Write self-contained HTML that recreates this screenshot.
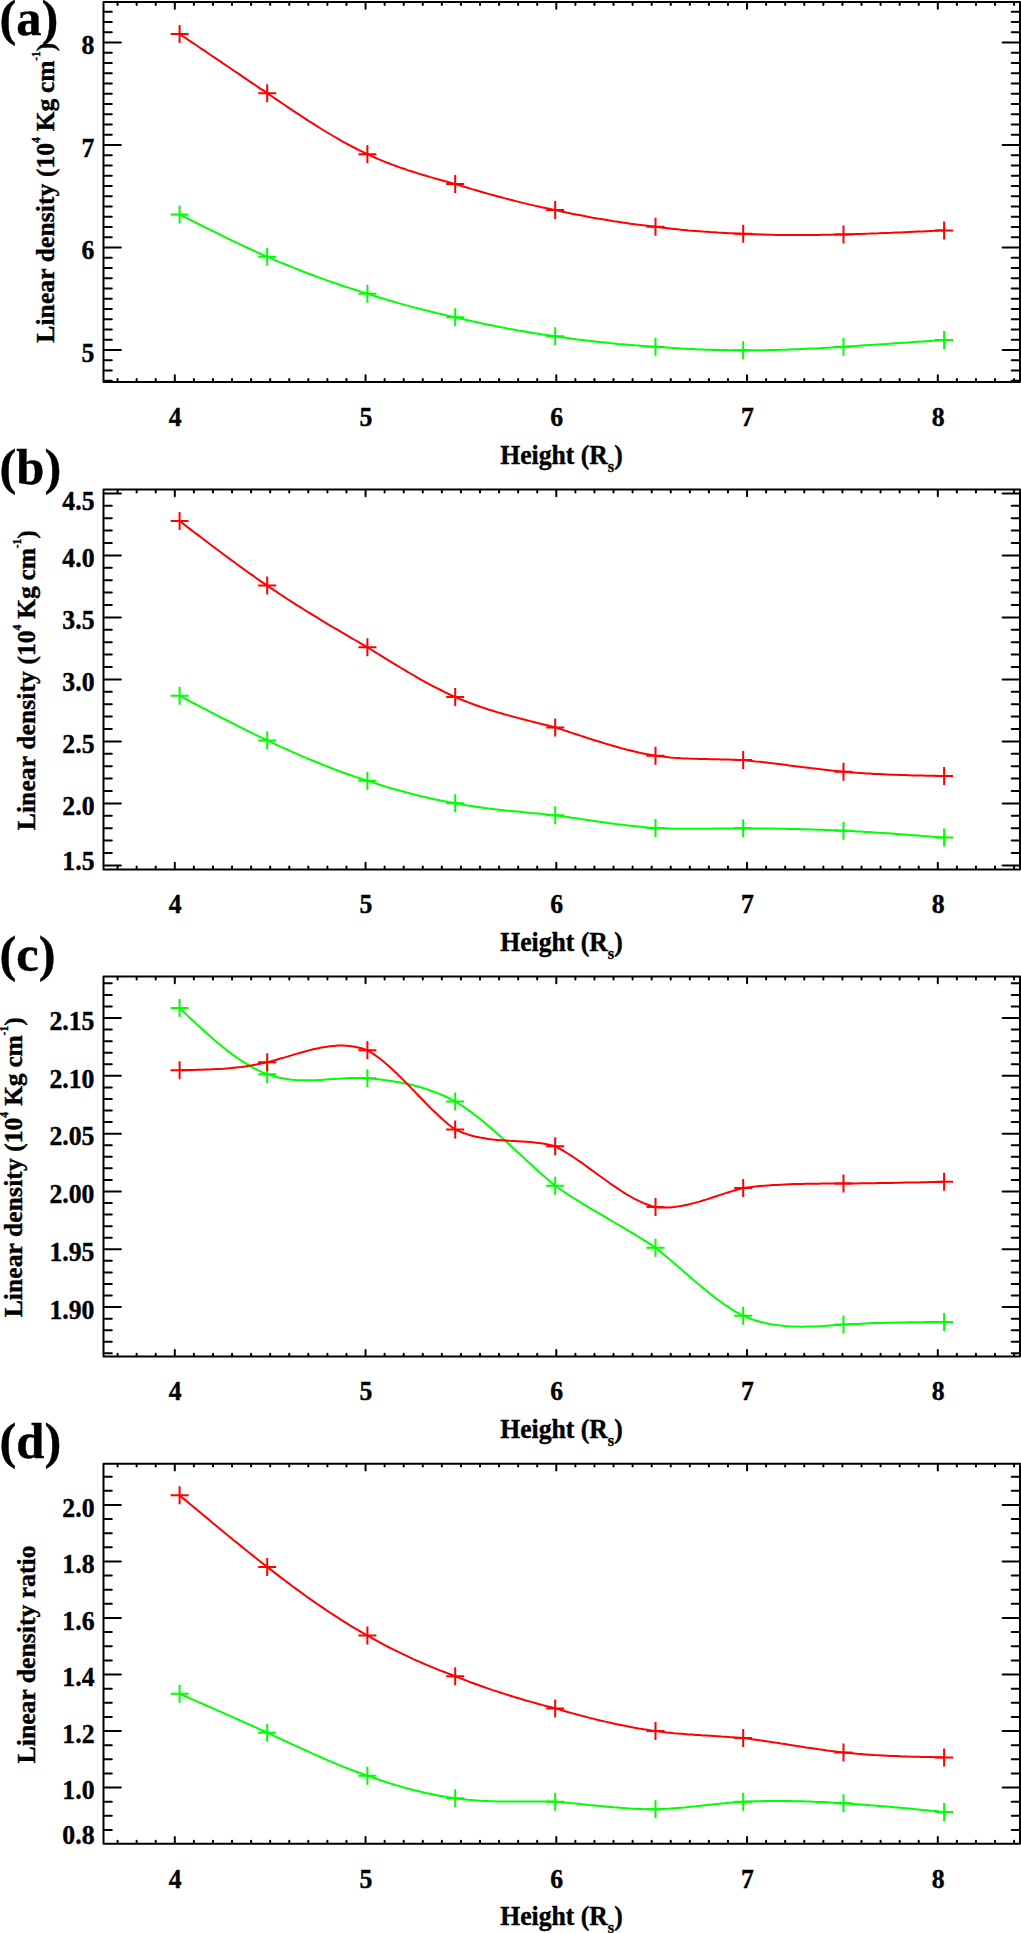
<!DOCTYPE html>
<html lang="en"><head><meta charset="utf-8"><title>Linear density vs height</title>
<style>
html,body{margin:0;padding:0;background:#fff;}
body{width:1021px;height:1933px;overflow:hidden;}
svg{display:block;}
text{font-family:"Liberation Serif",serif;font-weight:bold;fill:#000;stroke:#000;stroke-width:0.4px;}
.tk{font-size:27.1px;}
.ax{font-size:27.2px;}
.pl{font-size:50.5px;}
.fr{fill:none;stroke:#000;stroke-width:2;stroke-linejoin:round;}
.t{stroke:#000;stroke-width:2;fill:none;stroke-linecap:round;}
.r{stroke:#ff0000;fill:none;stroke-width:2;}
.g{stroke:#00ff00;fill:none;stroke-width:2;}
</style></head><body>
<svg width="1021" height="1933" viewBox="0 0 1021 1933">
<rect x="0" y="0" width="1021" height="1933" fill="#fff"/>
<g>
<path class="t" d="M117.58 381v-1.9M117.58 3v1.9M136.65 381v-1.9M136.65 3v1.9M155.72 381v-1.9M155.72 3v1.9M174.8 381v-5.7M174.8 3v5.7M193.87 381v-1.9M193.87 3v1.9M212.95 381v-1.9M212.95 3v1.9M232.02 381v-1.9M232.02 3v1.9M251.1 381v-1.9M251.1 3v1.9M270.18 381v-1.9M270.18 3v1.9M289.25 381v-1.9M289.25 3v1.9M308.33 381v-1.9M308.33 3v1.9M327.4 381v-1.9M327.4 3v1.9M346.48 381v-1.9M346.48 3v1.9M365.55 381v-5.7M365.55 3v5.7M384.62 381v-1.9M384.62 3v1.9M403.7 381v-1.9M403.7 3v1.9M422.77 381v-1.9M422.77 3v1.9M441.85 381v-1.9M441.85 3v1.9M460.93 381v-1.9M460.93 3v1.9M480 381v-1.9M480 3v1.9M499.08 381v-1.9M499.08 3v1.9M518.15 381v-1.9M518.15 3v1.9M537.23 381v-1.9M537.23 3v1.9M556.3 381v-5.7M556.3 3v5.7M575.38 381v-1.9M575.38 3v1.9M594.45 381v-1.9M594.45 3v1.9M613.52 381v-1.9M613.52 3v1.9M632.6 381v-1.9M632.6 3v1.9M651.67 381v-1.9M651.67 3v1.9M670.75 381v-1.9M670.75 3v1.9M689.83 381v-1.9M689.83 3v1.9M708.9 381v-1.9M708.9 3v1.9M727.98 381v-1.9M727.98 3v1.9M747.05 381v-5.7M747.05 3v5.7M766.12 381v-1.9M766.12 3v1.9M785.2 381v-1.9M785.2 3v1.9M804.28 381v-1.9M804.28 3v1.9M823.35 381v-1.9M823.35 3v1.9M842.42 381v-1.9M842.42 3v1.9M861.5 381v-1.9M861.5 3v1.9M880.58 381v-1.9M880.58 3v1.9M899.65 381v-1.9M899.65 3v1.9M918.73 381v-1.9M918.73 3v1.9M937.8 381v-5.7M937.8 3v5.7M956.88 381v-1.9M956.88 3v1.9M975.95 381v-1.9M975.95 3v1.9M995.03 381v-1.9M995.03 3v1.9M1014.1 381v-1.9M1014.1 3v1.9M104.5 380.65h7.3M1019 380.65h-7.3M104.5 370.4h7.3M1019 370.4h-7.3M104.5 360.15h7.3M1019 360.15h-7.3M104.5 349.9h16.4M1019 349.9h-16.4M104.5 339.65h7.3M1019 339.65h-7.3M104.5 329.4h7.3M1019 329.4h-7.3M104.5 319.15h7.3M1019 319.15h-7.3M104.5 308.9h7.3M1019 308.9h-7.3M104.5 298.65h7.3M1019 298.65h-7.3M104.5 288.4h7.3M1019 288.4h-7.3M104.5 278.15h7.3M1019 278.15h-7.3M104.5 267.9h7.3M1019 267.9h-7.3M104.5 257.65h7.3M1019 257.65h-7.3M104.5 247.4h16.4M1019 247.4h-16.4M104.5 237.15h7.3M1019 237.15h-7.3M104.5 226.9h7.3M1019 226.9h-7.3M104.5 216.65h7.3M1019 216.65h-7.3M104.5 206.4h7.3M1019 206.4h-7.3M104.5 196.15h7.3M1019 196.15h-7.3M104.5 185.9h7.3M1019 185.9h-7.3M104.5 175.65h7.3M1019 175.65h-7.3M104.5 165.4h7.3M1019 165.4h-7.3M104.5 155.15h7.3M1019 155.15h-7.3M104.5 144.9h16.4M1019 144.9h-16.4M104.5 134.65h7.3M1019 134.65h-7.3M104.5 124.4h7.3M1019 124.4h-7.3M104.5 114.15h7.3M1019 114.15h-7.3M104.5 103.9h7.3M1019 103.9h-7.3M104.5 93.65h7.3M1019 93.65h-7.3M104.5 83.4h7.3M1019 83.4h-7.3M104.5 73.15h7.3M1019 73.15h-7.3M104.5 62.9h7.3M1019 62.9h-7.3M104.5 52.65h7.3M1019 52.65h-7.3M104.5 42.4h16.4M1019 42.4h-16.4M104.5 32.15h7.3M1019 32.15h-7.3M104.5 21.9h7.3M1019 21.9h-7.3M104.5 11.65h7.3M1019 11.65h-7.3"/>
<rect class="fr" x="103.5" y="2" width="916.5" height="380"/>
<polyline class="g" points="179.6,214.5 183.2,216.3 186.9,218.2 190.5,220.0 194.2,221.8 197.8,223.7 201.5,225.5 205.2,227.3 208.8,229.1 212.4,230.9 216.1,232.7 219.8,234.5 223.4,236.3 227.0,238.1 230.7,239.8 234.3,241.6 238.0,243.3 241.6,245.1 245.3,246.8 248.9,248.5 252.6,250.1 256.2,251.8 259.9,253.5 263.6,255.1 267.2,256.7 271.4,258.5 275.6,260.3 279.7,262.1 283.9,263.8 288.1,265.5 292.2,267.2 296.4,268.9 300.6,270.5 304.8,272.2 308.9,273.8 313.1,275.3 317.3,276.9 321.5,278.4 325.6,279.9 329.8,281.4 334.0,282.8 338.2,284.3 342.3,285.7 346.5,287.1 350.7,288.4 354.9,289.8 359.0,291.1 363.2,292.4 367.4,293.7 371.1,294.9 374.7,296.0 378.4,297.2 382.0,298.3 385.7,299.4 389.3,300.5 393.0,301.5 396.7,302.6 400.3,303.6 404.0,304.6 407.6,305.6 411.3,306.6 415.0,307.6 418.6,308.5 422.3,309.5 425.9,310.4 429.6,311.3 433.2,312.2 436.9,313.1 440.6,314.0 444.2,314.8 447.9,315.7 451.5,316.5 455.2,317.3 459.4,318.3 463.5,319.3 467.7,320.2 471.9,321.2 476.0,322.1 480.2,323.0 484.4,323.9 488.5,324.8 492.7,325.6 496.9,326.4 501.0,327.3 505.2,328.1 509.4,328.9 513.5,329.6 517.7,330.4 521.9,331.1 526.0,331.8 530.2,332.5 534.4,333.2 538.5,333.8 542.7,334.5 546.9,335.1 551.0,335.7 555.2,336.3 559.4,336.9 563.6,337.5 567.7,338.1 571.9,338.7 576.1,339.3 580.3,339.8 584.5,340.3 588.6,340.8 592.8,341.3 597.0,341.8 601.2,342.2 605.4,342.6 609.5,343.1 613.7,343.5 617.9,343.9 622.1,344.2 626.2,344.6 630.4,344.9 634.6,345.3 638.8,345.6 643.0,345.9 647.1,346.2 651.3,346.4 655.5,346.7 659.2,347.0 662.8,347.3 666.5,347.5 670.1,347.8 673.8,348.0 677.4,348.2 681.1,348.5 684.7,348.7 688.4,348.9 692.0,349.0 695.7,349.2 699.4,349.4 703.0,349.5 706.7,349.7 710.3,349.8 714.0,349.9 717.6,350.0 721.3,350.1 724.9,350.1 728.6,350.2 732.2,350.2 735.9,350.3 739.5,350.3 743.2,350.3 747.4,350.3 751.6,350.3 755.7,350.3 759.9,350.2 764.1,350.2 768.3,350.1 772.5,350.0 776.6,349.9 780.8,349.8 785.0,349.7 789.2,349.5 793.4,349.3 797.5,349.2 801.7,349.0 805.9,348.8 810.1,348.6 814.2,348.4 818.4,348.2 822.6,347.9 826.8,347.7 831.0,347.5 835.1,347.2 839.3,347.0 843.5,346.7 847.9,346.4 852.2,346.2 856.6,345.9 861.0,345.6 865.4,345.3 869.7,345.0 874.1,344.8 878.5,344.5 882.9,344.2 887.2,343.9 891.6,343.6 896.0,343.3 900.4,343.0 904.7,342.7 909.1,342.4 913.5,342.1 917.9,341.8 922.2,341.5 926.6,341.2 931.0,340.9 935.4,340.6 939.7,340.3 944.1,340.0"/>
<path class="g" d="M170.6 214.5h18M179.6 205.5v18M258.2 256.7h18M267.2 247.7v18M358.4 293.7h18M367.4 284.7v18M446.2 317.3h18M455.2 308.3v18M546.2 336.3h18M555.2 327.3v18M646.5 346.7h18M655.5 337.7v18M734.2 350.3h18M743.2 341.3v18M834.5 346.7h18M843.5 337.7v18M935.1 340h18M944.1 331v18"/>
<polyline class="r" points="179.6,34.0 183.2,36.5 186.9,38.9 190.5,41.4 194.2,43.8 197.8,46.3 201.5,48.8 205.2,51.2 208.8,53.7 212.4,56.2 216.1,58.6 219.8,61.1 223.4,63.6 227.0,66.0 230.7,68.5 234.3,71.0 238.0,73.4 241.6,75.9 245.3,78.4 248.9,80.8 252.6,83.3 256.2,85.8 259.9,88.3 263.6,90.7 267.2,93.2 271.4,96.0 275.6,98.9 279.7,101.7 283.9,104.5 288.1,107.3 292.2,110.1 296.4,112.9 300.6,115.6 304.8,118.4 308.9,121.1 313.1,123.7 317.3,126.4 321.5,129.0 325.6,131.5 329.8,134.0 334.0,136.5 338.2,138.9 342.3,141.3 346.5,143.6 350.7,145.9 354.9,148.0 359.0,150.2 363.2,152.2 367.4,154.2 371.1,155.9 374.7,157.5 378.4,159.1 382.0,160.6 385.7,162.1 389.3,163.5 393.0,164.9 396.7,166.2 400.3,167.6 404.0,168.8 407.6,170.1 411.3,171.3 415.0,172.4 418.6,173.6 422.3,174.7 425.9,175.8 429.6,176.9 433.2,177.9 436.9,179.0 440.6,180.0 444.2,181.0 447.9,182.0 451.5,183.0 455.2,184.0 459.4,185.3 463.5,186.6 467.7,187.8 471.9,189.1 476.0,190.3 480.2,191.5 484.4,192.7 488.5,193.9 492.7,195.0 496.9,196.2 501.0,197.3 505.2,198.4 509.4,199.5 513.5,200.5 517.7,201.6 521.9,202.6 526.0,203.6 530.2,204.6 534.4,205.6 538.5,206.5 542.7,207.4 546.9,208.3 551.0,209.2 555.2,210.1 559.4,211.0 563.6,211.9 567.7,212.8 571.9,213.7 576.1,214.5 580.3,215.3 584.5,216.1 588.6,216.9 592.8,217.7 597.0,218.4 601.2,219.1 605.4,219.8 609.5,220.5 613.7,221.2 617.9,221.8 622.1,222.5 626.2,223.1 630.4,223.7 634.6,224.2 638.8,224.8 643.0,225.3 647.1,225.8 651.3,226.3 655.5,226.8 659.2,227.3 662.8,227.7 666.5,228.1 670.1,228.5 673.8,228.9 677.4,229.3 681.1,229.7 684.7,230.0 688.4,230.4 692.0,230.7 695.7,231.0 699.4,231.3 703.0,231.6 706.7,231.8 710.3,232.1 714.0,232.3 717.6,232.6 721.3,232.8 724.9,233.0 728.6,233.2 732.2,233.3 735.9,233.5 739.5,233.7 743.2,233.8 747.4,234.0 751.6,234.2 755.7,234.3 759.9,234.5 764.1,234.6 768.3,234.7 772.5,234.8 776.6,234.9 780.8,234.9 785.0,235.0 789.2,235.0 793.4,235.0 797.5,235.0 801.7,235.0 805.9,235.0 810.1,235.0 814.2,234.9 818.4,234.9 822.6,234.8 826.8,234.8 831.0,234.7 835.1,234.6 839.3,234.5 843.5,234.4 847.9,234.3 852.2,234.2 856.6,234.0 861.0,233.9 865.4,233.7 869.7,233.6 874.1,233.4 878.5,233.3 882.9,233.1 887.2,232.9 891.6,232.8 896.0,232.6 900.4,232.4 904.7,232.2 909.1,232.0 913.5,231.8 917.9,231.6 922.2,231.4 926.6,231.2 931.0,231.0 935.4,230.8 939.7,230.6 944.1,230.4"/>
<path class="r" d="M170.6 34h18M179.6 25v18M258.2 93.2h18M267.2 84.2v18M358.4 154.2h18M367.4 145.2v18M446.2 184h18M455.2 175v18M546.2 210.1h18M555.2 201.1v18M646.5 226.8h18M655.5 217.8v18M734.2 233.8h18M743.2 224.8v18M834.5 234.4h18M843.5 225.4v18M935.1 230.4h18M944.1 221.4v18"/>
<text class="tk" text-anchor="end" transform="translate(94.5 54.2) scale(0.95 1)">8</text>
<text class="tk" text-anchor="end" transform="translate(94.5 156.7) scale(0.95 1)">7</text>
<text class="tk" text-anchor="end" transform="translate(94.5 259.2) scale(0.95 1)">6</text>
<text class="tk" text-anchor="end" transform="translate(94.5 361.7) scale(0.95 1)">5</text>
<text class="tk" text-anchor="middle" transform="translate(175.1 425.8) scale(0.95 1)">4</text>
<text class="tk" text-anchor="middle" transform="translate(365.85 425.8) scale(0.95 1)">5</text>
<text class="tk" text-anchor="middle" transform="translate(556.6 425.8) scale(0.95 1)">6</text>
<text class="tk" text-anchor="middle" transform="translate(747.35 425.8) scale(0.95 1)">7</text>
<text class="tk" text-anchor="middle" transform="translate(938.1 425.8) scale(0.95 1)">8</text>
<text class="ax" text-anchor="middle" transform="translate(561.5 463.5) scale(0.943 1)">Height (R<tspan dy="8" font-size="17.5px">s</tspan><tspan dy="-8">)</tspan></text>
<text class="ax" style="font-size:25.5px" text-anchor="middle" transform="translate(54 192.75) rotate(-90)"><tspan letter-spacing="0.12">Linear density </tspan>(10<tspan dy="-14" font-size="11.5px">4</tspan><tspan dy="14" letter-spacing="-0.24"> Kg cm</tspan><tspan dy="-14" font-size="11.5px">-1</tspan><tspan dy="14">)</tspan></text>
<text class="pl" x="-0.5" y="35.3">(a)</text>
</g>
<g>
<path class="t" d="M117.58 868.5v-1.9M117.58 490.5v1.9M136.65 868.5v-1.9M136.65 490.5v1.9M155.72 868.5v-1.9M155.72 490.5v1.9M174.8 868.5v-5.7M174.8 490.5v5.7M193.87 868.5v-1.9M193.87 490.5v1.9M212.95 868.5v-1.9M212.95 490.5v1.9M232.02 868.5v-1.9M232.02 490.5v1.9M251.1 868.5v-1.9M251.1 490.5v1.9M270.18 868.5v-1.9M270.18 490.5v1.9M289.25 868.5v-1.9M289.25 490.5v1.9M308.33 868.5v-1.9M308.33 490.5v1.9M327.4 868.5v-1.9M327.4 490.5v1.9M346.48 868.5v-1.9M346.48 490.5v1.9M365.55 868.5v-5.7M365.55 490.5v5.7M384.62 868.5v-1.9M384.62 490.5v1.9M403.7 868.5v-1.9M403.7 490.5v1.9M422.77 868.5v-1.9M422.77 490.5v1.9M441.85 868.5v-1.9M441.85 490.5v1.9M460.93 868.5v-1.9M460.93 490.5v1.9M480 868.5v-1.9M480 490.5v1.9M499.08 868.5v-1.9M499.08 490.5v1.9M518.15 868.5v-1.9M518.15 490.5v1.9M537.23 868.5v-1.9M537.23 490.5v1.9M556.3 868.5v-5.7M556.3 490.5v5.7M575.38 868.5v-1.9M575.38 490.5v1.9M594.45 868.5v-1.9M594.45 490.5v1.9M613.52 868.5v-1.9M613.52 490.5v1.9M632.6 868.5v-1.9M632.6 490.5v1.9M651.67 868.5v-1.9M651.67 490.5v1.9M670.75 868.5v-1.9M670.75 490.5v1.9M689.83 868.5v-1.9M689.83 490.5v1.9M708.9 868.5v-1.9M708.9 490.5v1.9M727.98 868.5v-1.9M727.98 490.5v1.9M747.05 868.5v-5.7M747.05 490.5v5.7M766.12 868.5v-1.9M766.12 490.5v1.9M785.2 868.5v-1.9M785.2 490.5v1.9M804.28 868.5v-1.9M804.28 490.5v1.9M823.35 868.5v-1.9M823.35 490.5v1.9M842.42 868.5v-1.9M842.42 490.5v1.9M861.5 868.5v-1.9M861.5 490.5v1.9M880.58 868.5v-1.9M880.58 490.5v1.9M899.65 868.5v-1.9M899.65 490.5v1.9M918.73 868.5v-1.9M918.73 490.5v1.9M937.8 868.5v-5.7M937.8 490.5v5.7M956.88 868.5v-1.9M956.88 490.5v1.9M975.95 868.5v-1.9M975.95 490.5v1.9M995.03 868.5v-1.9M995.03 490.5v1.9M1014.1 868.5v-1.9M1014.1 490.5v1.9M104.5 865.4h16.4M1019 865.4h-16.4M104.5 853h7.3M1019 853h-7.3M104.5 840.6h7.3M1019 840.6h-7.3M104.5 828.2h7.3M1019 828.2h-7.3M104.5 815.8h7.3M1019 815.8h-7.3M104.5 803.4h16.4M1019 803.4h-16.4M104.5 791h7.3M1019 791h-7.3M104.5 778.6h7.3M1019 778.6h-7.3M104.5 766.2h7.3M1019 766.2h-7.3M104.5 753.8h7.3M1019 753.8h-7.3M104.5 741.4h16.4M1019 741.4h-16.4M104.5 729h7.3M1019 729h-7.3M104.5 716.6h7.3M1019 716.6h-7.3M104.5 704.2h7.3M1019 704.2h-7.3M104.5 691.8h7.3M1019 691.8h-7.3M104.5 679.4h16.4M1019 679.4h-16.4M104.5 667h7.3M1019 667h-7.3M104.5 654.6h7.3M1019 654.6h-7.3M104.5 642.2h7.3M1019 642.2h-7.3M104.5 629.8h7.3M1019 629.8h-7.3M104.5 617.4h16.4M1019 617.4h-16.4M104.5 605h7.3M1019 605h-7.3M104.5 592.6h7.3M1019 592.6h-7.3M104.5 580.2h7.3M1019 580.2h-7.3M104.5 567.8h7.3M1019 567.8h-7.3M104.5 555.4h16.4M1019 555.4h-16.4M104.5 543h7.3M1019 543h-7.3M104.5 530.6h7.3M1019 530.6h-7.3M104.5 518.2h7.3M1019 518.2h-7.3M104.5 505.8h7.3M1019 505.8h-7.3M104.5 493.4h16.4M1019 493.4h-16.4"/>
<rect class="fr" x="103.5" y="489.5" width="916.5" height="380"/>
<polyline class="g" points="179.6,695.8 183.2,697.7 186.9,699.6 190.5,701.6 194.2,703.5 197.8,705.4 201.5,707.3 205.2,709.2 208.8,711.1 212.4,713.0 216.1,714.9 219.8,716.8 223.4,718.7 227.0,720.5 230.7,722.4 234.3,724.2 238.0,726.1 241.6,727.9 245.3,729.7 248.9,731.6 252.6,733.3 256.2,735.1 259.9,736.9 263.6,738.7 267.2,740.4 271.4,742.4 275.6,744.3 279.7,746.3 283.9,748.2 288.1,750.0 292.2,751.9 296.4,753.7 300.6,755.6 304.8,757.3 308.9,759.1 313.1,760.8 317.3,762.5 321.5,764.2 325.6,765.9 329.8,767.5 334.0,769.1 338.2,770.7 342.3,772.2 346.5,773.7 350.7,775.2 354.9,776.6 359.0,778.0 363.2,779.4 367.4,780.7 371.1,781.9 374.7,783.1 378.4,784.3 382.0,785.5 385.7,786.6 389.3,787.7 393.0,788.8 396.7,789.8 400.3,790.8 404.0,791.8 407.6,792.8 411.3,793.8 415.0,794.7 418.6,795.6 422.3,796.5 425.9,797.3 429.6,798.2 433.2,799.0 436.9,799.7 440.6,800.5 444.2,801.2 447.9,801.9 451.5,802.6 455.2,803.3 459.4,804.1 463.5,804.8 467.7,805.5 471.9,806.1 476.0,806.7 480.2,807.3 484.4,807.9 488.5,808.4 492.7,808.9 496.9,809.4 501.0,809.9 505.2,810.4 509.4,810.8 513.5,811.2 517.7,811.6 521.9,812.0 526.0,812.5 530.2,812.9 534.4,813.2 538.5,813.6 542.7,814.1 546.9,814.5 551.0,814.9 555.2,815.3 559.4,815.9 563.6,816.5 567.7,817.1 571.9,817.7 576.1,818.3 580.3,819.0 584.5,819.6 588.6,820.2 592.8,820.8 597.0,821.4 601.2,822.0 605.4,822.6 609.5,823.2 613.7,823.7 617.9,824.3 622.1,824.8 626.2,825.3 630.4,825.8 634.6,826.2 638.8,826.6 643.0,827.0 647.1,827.4 651.3,827.7 655.5,828.0 659.2,828.2 662.8,828.3 666.5,828.5 670.1,828.6 673.8,828.7 677.4,828.7 681.1,828.8 684.7,828.8 688.4,828.8 692.0,828.8 695.7,828.8 699.4,828.8 703.0,828.8 706.7,828.7 710.3,828.7 714.0,828.6 717.6,828.6 721.3,828.5 724.9,828.5 728.6,828.4 732.2,828.4 735.9,828.3 739.5,828.3 743.2,828.3 747.4,828.3 751.6,828.4 755.7,828.4 759.9,828.5 764.1,828.5 768.3,828.6 772.5,828.6 776.6,828.7 780.8,828.8 785.0,828.8 789.2,828.9 793.4,829.0 797.5,829.1 801.7,829.2 805.9,829.3 810.1,829.4 814.2,829.6 818.4,829.7 822.6,829.8 826.8,830.0 831.0,830.2 835.1,830.3 839.3,830.5 843.5,830.7 847.9,830.9 852.2,831.1 856.6,831.4 861.0,831.6 865.4,831.9 869.7,832.1 874.1,832.4 878.5,832.7 882.9,833.0 887.2,833.3 891.6,833.6 896.0,833.9 900.4,834.2 904.7,834.5 909.1,834.9 913.5,835.2 917.9,835.5 922.2,835.9 926.6,836.2 931.0,836.6 935.4,836.9 939.7,837.3 944.1,837.6"/>
<path class="g" d="M170.6 695.8h18M179.6 686.8v18M258.2 740.4h18M267.2 731.4v18M358.4 780.7h18M367.4 771.7v18M446.2 803.3h18M455.2 794.3v18M546.2 815.3h18M555.2 806.3v18M646.5 828h18M655.5 819v18M734.2 828.3h18M743.2 819.3v18M834.5 830.7h18M843.5 821.7v18M935.1 837.6h18M944.1 828.6v18"/>
<polyline class="r" points="179.6,521.0 183.2,523.8 186.9,526.6 190.5,529.4 194.2,532.2 197.8,534.9 201.5,537.7 205.2,540.5 208.8,543.3 212.4,546.0 216.1,548.7 219.8,551.5 223.4,554.2 227.0,556.9 230.7,559.6 234.3,562.3 238.0,565.0 241.6,567.6 245.3,570.2 248.9,572.9 252.6,575.4 256.2,578.0 259.9,580.6 263.6,583.1 267.2,585.6 271.4,588.4 275.6,591.2 279.7,594.0 283.9,596.7 288.1,599.5 292.2,602.1 296.4,604.8 300.6,607.4 304.8,610.0 308.9,612.6 313.1,615.2 317.3,617.7 321.5,620.3 325.6,622.8 329.8,625.3 334.0,627.8 338.2,630.2 342.3,632.7 346.5,635.1 350.7,637.6 354.9,640.0 359.0,642.4 363.2,644.8 367.4,647.2 371.1,649.5 374.7,651.8 378.4,654.0 382.0,656.3 385.7,658.6 389.3,660.8 393.0,663.1 396.7,665.3 400.3,667.5 404.0,669.7 407.6,671.9 411.3,674.0 415.0,676.2 418.6,678.3 422.3,680.3 425.9,682.3 429.6,684.3 433.2,686.3 436.9,688.2 440.6,690.0 444.2,691.9 447.9,693.6 451.5,695.3 455.2,697.0 459.4,698.8 463.5,700.5 467.7,702.1 471.9,703.7 476.0,705.2 480.2,706.7 484.4,708.1 488.5,709.5 492.7,710.8 496.9,712.1 501.0,713.3 505.2,714.5 509.4,715.6 513.5,716.8 517.7,717.9 521.9,719.0 526.0,720.0 530.2,721.1 534.4,722.2 538.5,723.2 542.7,724.2 546.9,725.3 551.0,726.3 555.2,727.4 559.4,728.8 563.6,730.1 567.7,731.5 571.9,732.9 576.1,734.3 580.3,735.6 584.5,737.0 588.6,738.4 592.8,739.7 597.0,741.0 601.2,742.3 605.4,743.6 609.5,744.8 613.7,746.0 617.9,747.2 622.1,748.4 626.2,749.5 630.4,750.5 634.6,751.5 638.8,752.5 643.0,753.4 647.1,754.2 651.3,755.0 655.5,755.7 659.2,756.2 662.8,756.6 666.5,757.0 670.1,757.4 673.8,757.7 677.4,757.9 681.1,758.2 684.7,758.4 688.4,758.6 692.0,758.7 695.7,758.8 699.4,758.9 703.0,759.0 706.7,759.1 710.3,759.2 714.0,759.3 717.6,759.3 721.3,759.4 724.9,759.5 728.6,759.6 732.2,759.7 735.9,759.8 739.5,759.9 743.2,760.1 747.4,760.5 751.6,760.9 755.7,761.4 759.9,761.8 764.1,762.3 768.3,762.8 772.5,763.3 776.6,763.8 780.8,764.3 785.0,764.8 789.2,765.4 793.4,765.9 797.5,766.4 801.7,767.0 805.9,767.5 810.1,768.0 814.2,768.5 818.4,769.0 822.6,769.5 826.8,770.0 831.0,770.5 835.1,770.9 839.3,771.3 843.5,771.7 847.9,772.1 852.2,772.4 856.6,772.8 861.0,773.1 865.4,773.4 869.7,773.6 874.1,773.9 878.5,774.1 882.9,774.3 887.2,774.5 891.6,774.7 896.0,774.8 900.4,775.0 904.7,775.1 909.1,775.2 913.5,775.4 917.9,775.5 922.2,775.6 926.6,775.7 931.0,775.8 935.4,775.8 939.7,775.9 944.1,776.0"/>
<path class="r" d="M170.6 521h18M179.6 512v18M258.2 585.6h18M267.2 576.6v18M358.4 647.2h18M367.4 638.2v18M446.2 697h18M455.2 688v18M546.2 727.4h18M555.2 718.4v18M646.5 755.7h18M655.5 746.7v18M734.2 760.1h18M743.2 751.1v18M834.5 771.7h18M843.5 762.7v18M935.1 776h18M944.1 767v18"/>
<text class="tk" text-anchor="end" transform="translate(94.5 509.9) scale(0.95 1)">4.5</text>
<text class="tk" text-anchor="end" transform="translate(94.5 567.2) scale(0.95 1)">4.0</text>
<text class="tk" text-anchor="end" transform="translate(94.5 629.2) scale(0.95 1)">3.5</text>
<text class="tk" text-anchor="end" transform="translate(94.5 691.2) scale(0.95 1)">3.0</text>
<text class="tk" text-anchor="end" transform="translate(94.5 753.2) scale(0.95 1)">2.5</text>
<text class="tk" text-anchor="end" transform="translate(94.5 815.2) scale(0.95 1)">2.0</text>
<text class="tk" text-anchor="end" transform="translate(94.5 870.1) scale(0.95 1)">1.5</text>
<text class="tk" text-anchor="middle" transform="translate(175.1 913.3) scale(0.95 1)">4</text>
<text class="tk" text-anchor="middle" transform="translate(365.85 913.3) scale(0.95 1)">5</text>
<text class="tk" text-anchor="middle" transform="translate(556.6 913.3) scale(0.95 1)">6</text>
<text class="tk" text-anchor="middle" transform="translate(747.35 913.3) scale(0.95 1)">7</text>
<text class="tk" text-anchor="middle" transform="translate(938.1 913.3) scale(0.95 1)">8</text>
<text class="ax" text-anchor="middle" transform="translate(561.5 951) scale(0.943 1)">Height (R<tspan dy="8" font-size="17.5px">s</tspan><tspan dy="-8">)</tspan></text>
<text class="ax" style="font-size:25.5px" text-anchor="middle" transform="translate(34.8 680.25) rotate(-90)"><tspan letter-spacing="0.12">Linear density </tspan>(10<tspan dy="-14" font-size="11.5px">4</tspan><tspan dy="14" letter-spacing="-0.24"> Kg cm</tspan><tspan dy="-14" font-size="11.5px">-1</tspan><tspan dy="14">)</tspan></text>
<text class="pl" x="-0.5" y="483.5">(b)</text>
</g>
<g>
<path class="t" d="M117.58 1355.6v-1.9M117.58 977.6v1.9M136.65 1355.6v-1.9M136.65 977.6v1.9M155.72 1355.6v-1.9M155.72 977.6v1.9M174.8 1355.6v-5.7M174.8 977.6v5.7M193.87 1355.6v-1.9M193.87 977.6v1.9M212.95 1355.6v-1.9M212.95 977.6v1.9M232.02 1355.6v-1.9M232.02 977.6v1.9M251.1 1355.6v-1.9M251.1 977.6v1.9M270.18 1355.6v-1.9M270.18 977.6v1.9M289.25 1355.6v-1.9M289.25 977.6v1.9M308.33 1355.6v-1.9M308.33 977.6v1.9M327.4 1355.6v-1.9M327.4 977.6v1.9M346.48 1355.6v-1.9M346.48 977.6v1.9M365.55 1355.6v-5.7M365.55 977.6v5.7M384.62 1355.6v-1.9M384.62 977.6v1.9M403.7 1355.6v-1.9M403.7 977.6v1.9M422.77 1355.6v-1.9M422.77 977.6v1.9M441.85 1355.6v-1.9M441.85 977.6v1.9M460.93 1355.6v-1.9M460.93 977.6v1.9M480 1355.6v-1.9M480 977.6v1.9M499.08 1355.6v-1.9M499.08 977.6v1.9M518.15 1355.6v-1.9M518.15 977.6v1.9M537.23 1355.6v-1.9M537.23 977.6v1.9M556.3 1355.6v-5.7M556.3 977.6v5.7M575.38 1355.6v-1.9M575.38 977.6v1.9M594.45 1355.6v-1.9M594.45 977.6v1.9M613.52 1355.6v-1.9M613.52 977.6v1.9M632.6 1355.6v-1.9M632.6 977.6v1.9M651.67 1355.6v-1.9M651.67 977.6v1.9M670.75 1355.6v-1.9M670.75 977.6v1.9M689.83 1355.6v-1.9M689.83 977.6v1.9M708.9 1355.6v-1.9M708.9 977.6v1.9M727.98 1355.6v-1.9M727.98 977.6v1.9M747.05 1355.6v-5.7M747.05 977.6v5.7M766.12 1355.6v-1.9M766.12 977.6v1.9M785.2 1355.6v-1.9M785.2 977.6v1.9M804.28 1355.6v-1.9M804.28 977.6v1.9M823.35 1355.6v-1.9M823.35 977.6v1.9M842.42 1355.6v-1.9M842.42 977.6v1.9M861.5 1355.6v-1.9M861.5 977.6v1.9M880.58 1355.6v-1.9M880.58 977.6v1.9M899.65 1355.6v-1.9M899.65 977.6v1.9M918.73 1355.6v-1.9M918.73 977.6v1.9M937.8 1355.6v-5.7M937.8 977.6v5.7M956.88 1355.6v-1.9M956.88 977.6v1.9M975.95 1355.6v-1.9M975.95 977.6v1.9M995.03 1355.6v-1.9M995.03 977.6v1.9M1014.1 1355.6v-1.9M1014.1 977.6v1.9M104.5 1353.35h7.3M1019 1353.35h-7.3M104.5 1341.79h7.3M1019 1341.79h-7.3M104.5 1330.22h7.3M1019 1330.22h-7.3M104.5 1318.66h7.3M1019 1318.66h-7.3M104.5 1307.1h16.4M1019 1307.1h-16.4M104.5 1295.54h7.3M1019 1295.54h-7.3M104.5 1283.98h7.3M1019 1283.98h-7.3M104.5 1272.41h7.3M1019 1272.41h-7.3M104.5 1260.85h7.3M1019 1260.85h-7.3M104.5 1249.29h16.4M1019 1249.29h-16.4M104.5 1237.73h7.3M1019 1237.73h-7.3M104.5 1226.17h7.3M1019 1226.17h-7.3M104.5 1214.6h7.3M1019 1214.6h-7.3M104.5 1203.04h7.3M1019 1203.04h-7.3M104.5 1191.48h16.4M1019 1191.48h-16.4M104.5 1179.92h7.3M1019 1179.92h-7.3M104.5 1168.36h7.3M1019 1168.36h-7.3M104.5 1156.79h7.3M1019 1156.79h-7.3M104.5 1145.23h7.3M1019 1145.23h-7.3M104.5 1133.67h16.4M1019 1133.67h-16.4M104.5 1122.11h7.3M1019 1122.11h-7.3M104.5 1110.55h7.3M1019 1110.55h-7.3M104.5 1098.98h7.3M1019 1098.98h-7.3M104.5 1087.42h7.3M1019 1087.42h-7.3M104.5 1075.86h16.4M1019 1075.86h-16.4M104.5 1064.3h7.3M1019 1064.3h-7.3M104.5 1052.74h7.3M1019 1052.74h-7.3M104.5 1041.17h7.3M1019 1041.17h-7.3M104.5 1029.61h7.3M1019 1029.61h-7.3M104.5 1018.05h16.4M1019 1018.05h-16.4M104.5 1006.49h7.3M1019 1006.49h-7.3M104.5 994.93h7.3M1019 994.93h-7.3M104.5 983.36h7.3M1019 983.36h-7.3"/>
<rect class="fr" x="103.5" y="976.6" width="916.5" height="380"/>
<polyline class="g" points="179.6,1008.0 183.2,1011.5 186.9,1014.9 190.5,1018.4 194.2,1021.8 197.8,1025.2 201.5,1028.5 205.2,1031.9 208.8,1035.1 212.4,1038.3 216.1,1041.5 219.8,1044.5 223.4,1047.5 227.0,1050.4 230.7,1053.2 234.3,1055.9 238.0,1058.5 241.6,1060.9 245.3,1063.2 248.9,1065.5 252.6,1067.5 256.2,1069.4 259.9,1071.2 263.6,1072.8 267.2,1074.2 271.4,1075.6 275.6,1076.8 279.7,1077.8 283.9,1078.6 288.1,1079.2 292.2,1079.7 296.4,1080.1 300.6,1080.3 304.8,1080.3 308.9,1080.3 313.1,1080.2 317.3,1080.1 321.5,1079.9 325.6,1079.6 329.8,1079.3 334.0,1079.0 338.2,1078.8 342.3,1078.5 346.5,1078.3 350.7,1078.1 354.9,1078.0 359.0,1078.0 363.2,1078.0 367.4,1078.2 371.1,1078.5 374.7,1078.9 378.4,1079.3 382.0,1079.7 385.7,1080.2 389.3,1080.7 393.0,1081.3 396.7,1081.9 400.3,1082.5 404.0,1083.2 407.6,1084.0 411.3,1084.8 415.0,1085.7 418.6,1086.7 422.3,1087.8 425.9,1088.9 429.6,1090.2 433.2,1091.5 436.9,1092.9 440.6,1094.4 444.2,1096.0 447.9,1097.7 451.5,1099.6 455.2,1101.5 459.4,1104.0 463.5,1106.7 467.7,1109.6 471.9,1112.6 476.0,1115.7 480.2,1119.0 484.4,1122.4 488.5,1125.9 492.7,1129.5 496.9,1133.2 501.0,1136.9 505.2,1140.7 509.4,1144.5 513.5,1148.4 517.7,1152.2 521.9,1156.1 526.0,1160.0 530.2,1163.8 534.4,1167.6 538.5,1171.4 542.7,1175.1 546.9,1178.8 551.0,1182.3 555.2,1185.8 559.4,1188.7 563.6,1191.5 567.7,1194.3 571.9,1197.0 576.1,1199.6 580.3,1202.2 584.5,1204.8 588.6,1207.3 592.8,1209.8 597.0,1212.2 601.2,1214.7 605.4,1217.1 609.5,1219.6 613.7,1222.0 617.9,1224.5 622.1,1226.9 626.2,1229.4 630.4,1231.9 634.6,1234.4 638.8,1237.0 643.0,1239.6 647.1,1242.2 651.3,1244.9 655.5,1247.7 659.2,1250.6 662.8,1253.7 666.5,1256.7 670.1,1259.8 673.8,1263.0 677.4,1266.1 681.1,1269.3 684.7,1272.5 688.4,1275.6 692.0,1278.8 695.7,1281.9 699.4,1285.0 703.0,1288.0 706.7,1291.0 710.3,1293.9 714.0,1296.8 717.6,1299.6 721.3,1302.2 724.9,1304.8 728.6,1307.2 732.2,1309.6 735.9,1311.8 739.5,1313.8 743.2,1315.7 747.4,1317.5 751.6,1319.1 755.7,1320.5 759.9,1321.7 764.1,1322.8 768.3,1323.7 772.5,1324.5 776.6,1325.1 780.8,1325.6 785.0,1326.0 789.2,1326.3 793.4,1326.5 797.5,1326.6 801.7,1326.7 805.9,1326.6 810.1,1326.5 814.2,1326.4 818.4,1326.2 822.6,1326.0 826.8,1325.7 831.0,1325.4 835.1,1325.1 839.3,1324.9 843.5,1324.6 847.9,1324.3 852.2,1324.1 856.6,1323.9 861.0,1323.7 865.4,1323.5 869.7,1323.3 874.1,1323.1 878.5,1323.0 882.9,1322.9 887.2,1322.8 891.6,1322.7 896.0,1322.6 900.4,1322.5 904.7,1322.4 909.1,1322.3 913.5,1322.3 917.9,1322.2 922.2,1322.2 926.6,1322.1 931.0,1322.1 935.4,1322.1 939.7,1322.0 944.1,1322.0"/>
<path class="g" d="M170.6 1008h18M179.6 999v18M258.2 1074.2h18M267.2 1065.2v18M358.4 1078.2h18M367.4 1069.2v18M446.2 1101.5h18M455.2 1092.5v18M546.2 1185.8h18M555.2 1176.8v18M646.5 1247.7h18M655.5 1238.7v18M734.2 1315.7h18M743.2 1306.7v18M834.5 1324.6h18M843.5 1315.6v18M935.1 1322h18M944.1 1313v18"/>
<polyline class="r" points="179.6,1070.2 183.2,1070.1 186.9,1070.1 190.5,1070.0 194.2,1069.9 197.8,1069.8 201.5,1069.7 205.2,1069.6 208.8,1069.5 212.4,1069.3 216.1,1069.1 219.8,1068.9 223.4,1068.7 227.0,1068.4 230.7,1068.1 234.3,1067.7 238.0,1067.3 241.6,1066.9 245.3,1066.4 248.9,1065.8 252.6,1065.2 256.2,1064.6 259.9,1063.8 263.6,1063.0 267.2,1062.2 271.4,1061.1 275.6,1060.0 279.7,1058.8 283.9,1057.6 288.1,1056.4 292.2,1055.1 296.4,1053.9 300.6,1052.7 304.8,1051.5 308.9,1050.4 313.1,1049.3 317.3,1048.4 321.5,1047.6 325.6,1046.9 329.8,1046.3 334.0,1045.9 338.2,1045.6 342.3,1045.6 346.5,1045.8 350.7,1046.2 354.9,1046.8 359.0,1047.7 363.2,1048.8 367.4,1050.3 371.1,1052.5 374.7,1054.9 378.4,1057.5 382.0,1060.3 385.7,1063.4 389.3,1066.6 393.0,1069.9 396.7,1073.4 400.3,1077.0 404.0,1080.6 407.6,1084.4 411.3,1088.1 415.0,1091.9 418.6,1095.7 422.3,1099.5 425.9,1103.3 429.6,1107.0 433.2,1110.6 436.9,1114.1 440.6,1117.5 444.2,1120.8 447.9,1123.9 451.5,1126.8 455.2,1129.5 459.4,1131.4 463.5,1133.0 467.7,1134.4 471.9,1135.7 476.0,1136.7 480.2,1137.6 484.4,1138.3 488.5,1139.0 492.7,1139.5 496.9,1139.9 501.0,1140.2 505.2,1140.5 509.4,1140.8 513.5,1141.0 517.7,1141.2 521.9,1141.5 526.0,1141.8 530.2,1142.1 534.4,1142.5 538.5,1143.0 542.7,1143.6 546.9,1144.3 551.0,1145.2 555.2,1146.2 559.4,1148.5 563.6,1150.9 567.7,1153.5 571.9,1156.2 576.1,1159.0 580.3,1161.9 584.5,1164.8 588.6,1167.9 592.8,1170.9 597.0,1174.0 601.2,1177.0 605.4,1180.0 609.5,1183.0 613.7,1185.9 617.9,1188.7 622.1,1191.5 626.2,1194.1 630.4,1196.5 634.6,1198.8 638.8,1200.9 643.0,1202.8 647.1,1204.5 651.3,1205.9 655.5,1207.1 659.2,1207.4 662.8,1207.6 666.5,1207.6 670.1,1207.4 673.8,1207.1 677.4,1206.6 681.1,1206.0 684.7,1205.3 688.4,1204.5 692.0,1203.6 695.7,1202.6 699.4,1201.6 703.0,1200.5 706.7,1199.4 710.3,1198.2 714.0,1197.0 717.6,1195.8 721.3,1194.6 724.9,1193.4 728.6,1192.2 732.2,1191.1 735.9,1190.0 739.5,1189.0 743.2,1188.0 747.4,1187.5 751.6,1187.0 755.7,1186.5 759.9,1186.1 764.1,1185.8 768.3,1185.4 772.5,1185.1 776.6,1184.9 780.8,1184.7 785.0,1184.5 789.2,1184.3 793.4,1184.1 797.5,1184.0 801.7,1183.9 805.9,1183.8 810.1,1183.8 814.2,1183.7 818.4,1183.7 822.6,1183.6 826.8,1183.6 831.0,1183.6 835.1,1183.6 839.3,1183.5 843.5,1183.5 847.9,1183.5 852.2,1183.4 856.6,1183.4 861.0,1183.3 865.4,1183.3 869.7,1183.2 874.1,1183.2 878.5,1183.1 882.9,1183.0 887.2,1182.9 891.6,1182.9 896.0,1182.8 900.4,1182.7 904.7,1182.6 909.1,1182.5 913.5,1182.5 917.9,1182.4 922.2,1182.3 926.6,1182.2 931.0,1182.1 935.4,1182.0 939.7,1181.9 944.1,1181.8"/>
<path class="r" d="M170.6 1070.2h18M179.6 1061.2v18M258.2 1062.2h18M267.2 1053.2v18M358.4 1050.3h18M367.4 1041.3v18M446.2 1129.5h18M455.2 1120.5v18M546.2 1146.2h18M555.2 1137.2v18M646.5 1207.1h18M655.5 1198.1v18M734.2 1188h18M743.2 1179v18M834.5 1183.5h18M843.5 1174.5v18M935.1 1181.8h18M944.1 1172.8v18"/>
<text class="tk" text-anchor="end" transform="translate(94.5 1029.85) scale(0.95 1)">2.15</text>
<text class="tk" text-anchor="end" transform="translate(94.5 1087.66) scale(0.95 1)">2.10</text>
<text class="tk" text-anchor="end" transform="translate(94.5 1145.47) scale(0.95 1)">2.05</text>
<text class="tk" text-anchor="end" transform="translate(94.5 1203.28) scale(0.95 1)">2.00</text>
<text class="tk" text-anchor="end" transform="translate(94.5 1261.09) scale(0.95 1)">1.95</text>
<text class="tk" text-anchor="end" transform="translate(94.5 1318.9) scale(0.95 1)">1.90</text>
<text class="tk" text-anchor="middle" transform="translate(175.1 1400.4) scale(0.95 1)">4</text>
<text class="tk" text-anchor="middle" transform="translate(365.85 1400.4) scale(0.95 1)">5</text>
<text class="tk" text-anchor="middle" transform="translate(556.6 1400.4) scale(0.95 1)">6</text>
<text class="tk" text-anchor="middle" transform="translate(747.35 1400.4) scale(0.95 1)">7</text>
<text class="tk" text-anchor="middle" transform="translate(938.1 1400.4) scale(0.95 1)">8</text>
<text class="ax" text-anchor="middle" transform="translate(561.5 1438.1) scale(0.943 1)">Height (R<tspan dy="8" font-size="17.5px">s</tspan><tspan dy="-8">)</tspan></text>
<text class="ax" style="font-size:25.5px" text-anchor="middle" transform="translate(21.9 1167.35) rotate(-90)"><tspan letter-spacing="0.12">Linear density </tspan>(10<tspan dy="-14" font-size="11.5px">4</tspan><tspan dy="14" letter-spacing="-0.24"> Kg cm</tspan><tspan dy="-14" font-size="11.5px">-1</tspan><tspan dy="14">)</tspan></text>
<text class="pl" x="-0.5" y="970.9">(c)</text>
</g>
<g>
<path class="t" d="M117.58 1842.7v-1.9M117.58 1464.7v1.9M136.65 1842.7v-1.9M136.65 1464.7v1.9M155.72 1842.7v-1.9M155.72 1464.7v1.9M174.8 1842.7v-5.7M174.8 1464.7v5.7M193.87 1842.7v-1.9M193.87 1464.7v1.9M212.95 1842.7v-1.9M212.95 1464.7v1.9M232.02 1842.7v-1.9M232.02 1464.7v1.9M251.1 1842.7v-1.9M251.1 1464.7v1.9M270.18 1842.7v-1.9M270.18 1464.7v1.9M289.25 1842.7v-1.9M289.25 1464.7v1.9M308.33 1842.7v-1.9M308.33 1464.7v1.9M327.4 1842.7v-1.9M327.4 1464.7v1.9M346.48 1842.7v-1.9M346.48 1464.7v1.9M365.55 1842.7v-5.7M365.55 1464.7v5.7M384.62 1842.7v-1.9M384.62 1464.7v1.9M403.7 1842.7v-1.9M403.7 1464.7v1.9M422.77 1842.7v-1.9M422.77 1464.7v1.9M441.85 1842.7v-1.9M441.85 1464.7v1.9M460.93 1842.7v-1.9M460.93 1464.7v1.9M480 1842.7v-1.9M480 1464.7v1.9M499.08 1842.7v-1.9M499.08 1464.7v1.9M518.15 1842.7v-1.9M518.15 1464.7v1.9M537.23 1842.7v-1.9M537.23 1464.7v1.9M556.3 1842.7v-5.7M556.3 1464.7v5.7M575.38 1842.7v-1.9M575.38 1464.7v1.9M594.45 1842.7v-1.9M594.45 1464.7v1.9M613.52 1842.7v-1.9M613.52 1464.7v1.9M632.6 1842.7v-1.9M632.6 1464.7v1.9M651.67 1842.7v-1.9M651.67 1464.7v1.9M670.75 1842.7v-1.9M670.75 1464.7v1.9M689.83 1842.7v-1.9M689.83 1464.7v1.9M708.9 1842.7v-1.9M708.9 1464.7v1.9M727.98 1842.7v-1.9M727.98 1464.7v1.9M747.05 1842.7v-5.7M747.05 1464.7v5.7M766.12 1842.7v-1.9M766.12 1464.7v1.9M785.2 1842.7v-1.9M785.2 1464.7v1.9M804.28 1842.7v-1.9M804.28 1464.7v1.9M823.35 1842.7v-1.9M823.35 1464.7v1.9M842.42 1842.7v-1.9M842.42 1464.7v1.9M861.5 1842.7v-1.9M861.5 1464.7v1.9M880.58 1842.7v-1.9M880.58 1464.7v1.9M899.65 1842.7v-1.9M899.65 1464.7v1.9M918.73 1842.7v-1.9M918.73 1464.7v1.9M937.8 1842.7v-5.7M937.8 1464.7v5.7M956.88 1842.7v-1.9M956.88 1464.7v1.9M975.95 1842.7v-1.9M975.95 1464.7v1.9M995.03 1842.7v-1.9M995.03 1464.7v1.9M1014.1 1842.7v-1.9M1014.1 1464.7v1.9M104.5 1830h7.3M1019 1830h-7.3M104.5 1815.87h7.3M1019 1815.87h-7.3M104.5 1801.73h7.3M1019 1801.73h-7.3M104.5 1787.6h16.4M1019 1787.6h-16.4M104.5 1773.46h7.3M1019 1773.46h-7.3M104.5 1759.33h7.3M1019 1759.33h-7.3M104.5 1745.19h7.3M1019 1745.19h-7.3M104.5 1731.06h16.4M1019 1731.06h-16.4M104.5 1716.92h7.3M1019 1716.92h-7.3M104.5 1702.79h7.3M1019 1702.79h-7.3M104.5 1688.65h7.3M1019 1688.65h-7.3M104.5 1674.52h16.4M1019 1674.52h-16.4M104.5 1660.38h7.3M1019 1660.38h-7.3M104.5 1646.25h7.3M1019 1646.25h-7.3M104.5 1632.11h7.3M1019 1632.11h-7.3M104.5 1617.98h16.4M1019 1617.98h-16.4M104.5 1603.84h7.3M1019 1603.84h-7.3M104.5 1589.71h7.3M1019 1589.71h-7.3M104.5 1575.57h7.3M1019 1575.57h-7.3M104.5 1561.44h16.4M1019 1561.44h-16.4M104.5 1547.3h7.3M1019 1547.3h-7.3M104.5 1533.17h7.3M1019 1533.17h-7.3M104.5 1519.03h7.3M1019 1519.03h-7.3M104.5 1504.9h16.4M1019 1504.9h-16.4M104.5 1490.76h7.3M1019 1490.76h-7.3M104.5 1476.63h7.3M1019 1476.63h-7.3"/>
<rect class="fr" x="103.5" y="1463.7" width="916.5" height="380"/>
<polyline class="g" points="179.6,1693.8 183.2,1695.4 186.9,1697.0 190.5,1698.6 194.2,1700.2 197.8,1701.8 201.5,1703.4 205.2,1705.0 208.8,1706.6 212.4,1708.2 216.1,1709.8 219.8,1711.4 223.4,1713.0 227.0,1714.6 230.7,1716.2 234.3,1717.9 238.0,1719.5 241.6,1721.1 245.3,1722.8 248.9,1724.4 252.6,1726.0 256.2,1727.7 259.9,1729.4 263.6,1731.0 267.2,1732.7 271.4,1734.6 275.6,1736.6 279.7,1738.5 283.9,1740.4 288.1,1742.4 292.2,1744.3 296.4,1746.2 300.6,1748.1 304.8,1750.0 308.9,1751.9 313.1,1753.8 317.3,1755.7 321.5,1757.5 325.6,1759.3 329.8,1761.1 334.0,1762.9 338.2,1764.6 342.3,1766.3 346.5,1768.0 350.7,1769.6 354.9,1771.2 359.0,1772.7 363.2,1774.2 367.4,1775.7 371.1,1777.0 374.7,1778.3 378.4,1779.5 382.0,1780.8 385.7,1782.0 389.3,1783.1 393.0,1784.3 396.7,1785.4 400.3,1786.4 404.0,1787.5 407.6,1788.5 411.3,1789.5 415.0,1790.4 418.6,1791.3 422.3,1792.2 425.9,1793.0 429.6,1793.8 433.2,1794.6 436.9,1795.3 440.6,1796.0 444.2,1796.6 447.9,1797.2 451.5,1797.8 455.2,1798.3 459.4,1798.9 463.5,1799.3 467.7,1799.8 471.9,1800.1 476.0,1800.4 480.2,1800.7 484.4,1800.9 488.5,1801.1 492.7,1801.2 496.9,1801.4 501.0,1801.4 505.2,1801.5 509.4,1801.5 513.5,1801.5 517.7,1801.5 521.9,1801.5 526.0,1801.5 530.2,1801.5 534.4,1801.5 538.5,1801.5 542.7,1801.5 546.9,1801.6 551.0,1801.6 555.2,1801.7 559.4,1802.0 563.6,1802.4 567.7,1802.8 571.9,1803.2 576.1,1803.6 580.3,1804.0 584.5,1804.4 588.6,1804.9 592.8,1805.3 597.0,1805.7 601.2,1806.1 605.4,1806.5 609.5,1806.9 613.7,1807.3 617.9,1807.6 622.1,1807.9 626.2,1808.2 630.4,1808.5 634.6,1808.7 638.8,1808.9 643.0,1809.1 647.1,1809.2 651.3,1809.3 655.5,1809.3 659.2,1809.2 662.8,1809.0 666.5,1808.8 670.1,1808.6 673.8,1808.3 677.4,1808.0 681.1,1807.7 684.7,1807.4 688.4,1807.0 692.0,1806.6 695.7,1806.3 699.4,1805.9 703.0,1805.5 706.7,1805.1 710.3,1804.7 714.0,1804.3 717.6,1803.9 721.3,1803.5 724.9,1803.2 728.6,1802.8 732.2,1802.5 735.9,1802.2 739.5,1801.9 743.2,1801.7 747.4,1801.5 751.6,1801.4 755.7,1801.3 759.9,1801.2 764.1,1801.1 768.3,1801.0 772.5,1801.0 776.6,1801.0 780.8,1801.0 785.0,1801.0 789.2,1801.1 793.4,1801.2 797.5,1801.2 801.7,1801.3 805.9,1801.5 810.1,1801.6 814.2,1801.8 818.4,1801.9 822.6,1802.1 826.8,1802.3 831.0,1802.6 835.1,1802.8 839.3,1803.0 843.5,1803.3 847.9,1803.6 852.2,1803.9 856.6,1804.2 861.0,1804.5 865.4,1804.8 869.7,1805.2 874.1,1805.5 878.5,1805.9 882.9,1806.3 887.2,1806.6 891.6,1807.0 896.0,1807.4 900.4,1807.8 904.7,1808.2 909.1,1808.6 913.5,1809.0 917.9,1809.4 922.2,1809.9 926.6,1810.3 931.0,1810.7 935.4,1811.1 939.7,1811.6 944.1,1812.0"/>
<path class="g" d="M170.6 1693.8h18M179.6 1684.8v18M258.2 1732.7h18M267.2 1723.7v18M358.4 1775.7h18M367.4 1766.7v18M446.2 1798.3h18M455.2 1789.3v18M546.2 1801.7h18M555.2 1792.7v18M646.5 1809.3h18M655.5 1800.3v18M734.2 1801.7h18M743.2 1792.7v18M834.5 1803.3h18M843.5 1794.3v18M935.1 1812h18M944.1 1803v18"/>
<polyline class="r" points="179.6,1495.3 183.2,1498.4 186.9,1501.4 190.5,1504.4 194.2,1507.5 197.8,1510.5 201.5,1513.6 205.2,1516.6 208.8,1519.6 212.4,1522.7 216.1,1525.7 219.8,1528.7 223.4,1531.7 227.0,1534.7 230.7,1537.7 234.3,1540.7 238.0,1543.6 241.6,1546.6 245.3,1549.5 248.9,1552.5 252.6,1555.4 256.2,1558.3 259.9,1561.2 263.6,1564.0 267.2,1566.9 271.4,1570.1 275.6,1573.4 279.7,1576.6 283.9,1579.7 288.1,1582.9 292.2,1586.0 296.4,1589.1 300.6,1592.1 304.8,1595.2 308.9,1598.1 313.1,1601.1 317.3,1604.0 321.5,1606.9 325.6,1609.7 329.8,1612.5 334.0,1615.2 338.2,1617.9 342.3,1620.6 346.5,1623.2 350.7,1625.8 354.9,1628.3 359.0,1630.7 363.2,1633.1 367.4,1635.5 371.1,1637.6 374.7,1639.7 378.4,1641.7 382.0,1643.6 385.7,1645.6 389.3,1647.5 393.0,1649.3 396.7,1651.2 400.3,1652.9 404.0,1654.7 407.6,1656.4 411.3,1658.1 415.0,1659.8 418.6,1661.4 422.3,1663.0 425.9,1664.6 429.6,1666.1 433.2,1667.6 436.9,1669.1 440.6,1670.6 444.2,1672.0 447.9,1673.4 451.5,1674.8 455.2,1676.2 459.4,1677.9 463.5,1679.5 467.7,1681.1 471.9,1682.7 476.0,1684.2 480.2,1685.7 484.4,1687.2 488.5,1688.6 492.7,1690.1 496.9,1691.4 501.0,1692.8 505.2,1694.1 509.4,1695.5 513.5,1696.7 517.7,1698.0 521.9,1699.2 526.0,1700.5 530.2,1701.6 534.4,1702.8 538.5,1704.0 542.7,1705.1 546.9,1706.2 551.0,1707.3 555.2,1708.4 559.4,1709.6 563.6,1710.8 567.7,1712.0 571.9,1713.1 576.1,1714.3 580.3,1715.4 584.5,1716.5 588.6,1717.6 592.8,1718.6 597.0,1719.7 601.2,1720.7 605.4,1721.6 609.5,1722.6 613.7,1723.5 617.9,1724.4 622.1,1725.3 626.2,1726.1 630.4,1726.9 634.6,1727.7 638.8,1728.5 643.0,1729.2 647.1,1729.8 651.3,1730.5 655.5,1731.1 659.2,1731.6 662.8,1732.0 666.5,1732.4 670.1,1732.8 673.8,1733.2 677.4,1733.5 681.1,1733.8 684.7,1734.1 688.4,1734.4 692.0,1734.6 695.7,1734.9 699.4,1735.1 703.0,1735.4 706.7,1735.6 710.3,1735.8 714.0,1736.0 717.6,1736.2 721.3,1736.5 724.9,1736.7 728.6,1737.0 732.2,1737.2 735.9,1737.5 739.5,1737.8 743.2,1738.1 747.4,1738.6 751.6,1739.2 755.7,1739.7 759.9,1740.3 764.1,1740.9 768.3,1741.6 772.5,1742.2 776.6,1742.8 780.8,1743.5 785.0,1744.1 789.2,1744.8 793.4,1745.4 797.5,1746.1 801.7,1746.7 805.9,1747.4 810.1,1748.0 814.2,1748.6 818.4,1749.2 822.6,1749.8 826.8,1750.4 831.0,1750.9 835.1,1751.4 839.3,1751.9 843.5,1752.4 847.9,1752.9 852.2,1753.3 856.6,1753.7 861.0,1754.0 865.4,1754.4 869.7,1754.7 874.1,1755.0 878.5,1755.2 882.9,1755.5 887.2,1755.7 891.6,1755.9 896.0,1756.1 900.4,1756.3 904.7,1756.4 909.1,1756.6 913.5,1756.7 917.9,1756.8 922.2,1756.9 926.6,1757.0 931.0,1757.1 935.4,1757.2 939.7,1757.3 944.1,1757.4"/>
<path class="r" d="M170.6 1495.3h18M179.6 1486.3v18M258.2 1566.9h18M267.2 1557.9v18M358.4 1635.5h18M367.4 1626.5v18M446.2 1676.2h18M455.2 1667.2v18M546.2 1708.4h18M555.2 1699.4v18M646.5 1731.1h18M655.5 1722.1v18M734.2 1738.1h18M743.2 1729.1v18M834.5 1752.4h18M843.5 1743.4v18M935.1 1757.4h18M944.1 1748.4v18"/>
<text class="tk" text-anchor="end" transform="translate(94.5 1516.7) scale(0.95 1)">2.0</text>
<text class="tk" text-anchor="end" transform="translate(94.5 1573.24) scale(0.95 1)">1.8</text>
<text class="tk" text-anchor="end" transform="translate(94.5 1629.78) scale(0.95 1)">1.6</text>
<text class="tk" text-anchor="end" transform="translate(94.5 1686.32) scale(0.95 1)">1.4</text>
<text class="tk" text-anchor="end" transform="translate(94.5 1742.86) scale(0.95 1)">1.2</text>
<text class="tk" text-anchor="end" transform="translate(94.5 1799.4) scale(0.95 1)">1.0</text>
<text class="tk" text-anchor="end" transform="translate(94.5 1844.3) scale(0.95 1)">0.8</text>
<text class="tk" text-anchor="middle" transform="translate(175.1 1887.5) scale(0.95 1)">4</text>
<text class="tk" text-anchor="middle" transform="translate(365.85 1887.5) scale(0.95 1)">5</text>
<text class="tk" text-anchor="middle" transform="translate(556.6 1887.5) scale(0.95 1)">6</text>
<text class="tk" text-anchor="middle" transform="translate(747.35 1887.5) scale(0.95 1)">7</text>
<text class="tk" text-anchor="middle" transform="translate(938.1 1887.5) scale(0.95 1)">8</text>
<text class="ax" text-anchor="middle" transform="translate(561.5 1925.2) scale(0.943 1)">Height (R<tspan dy="8" font-size="17.5px">s</tspan><tspan dy="-8">)</tspan></text>
<text class="ax" style="font-size:25.7px" text-anchor="middle" transform="translate(35.2 1654.45) rotate(-90)">Linear density ratio</text>
<text class="pl" x="-0.5" y="1458.2">(d)</text>
</g>
</svg>
</body></html>
